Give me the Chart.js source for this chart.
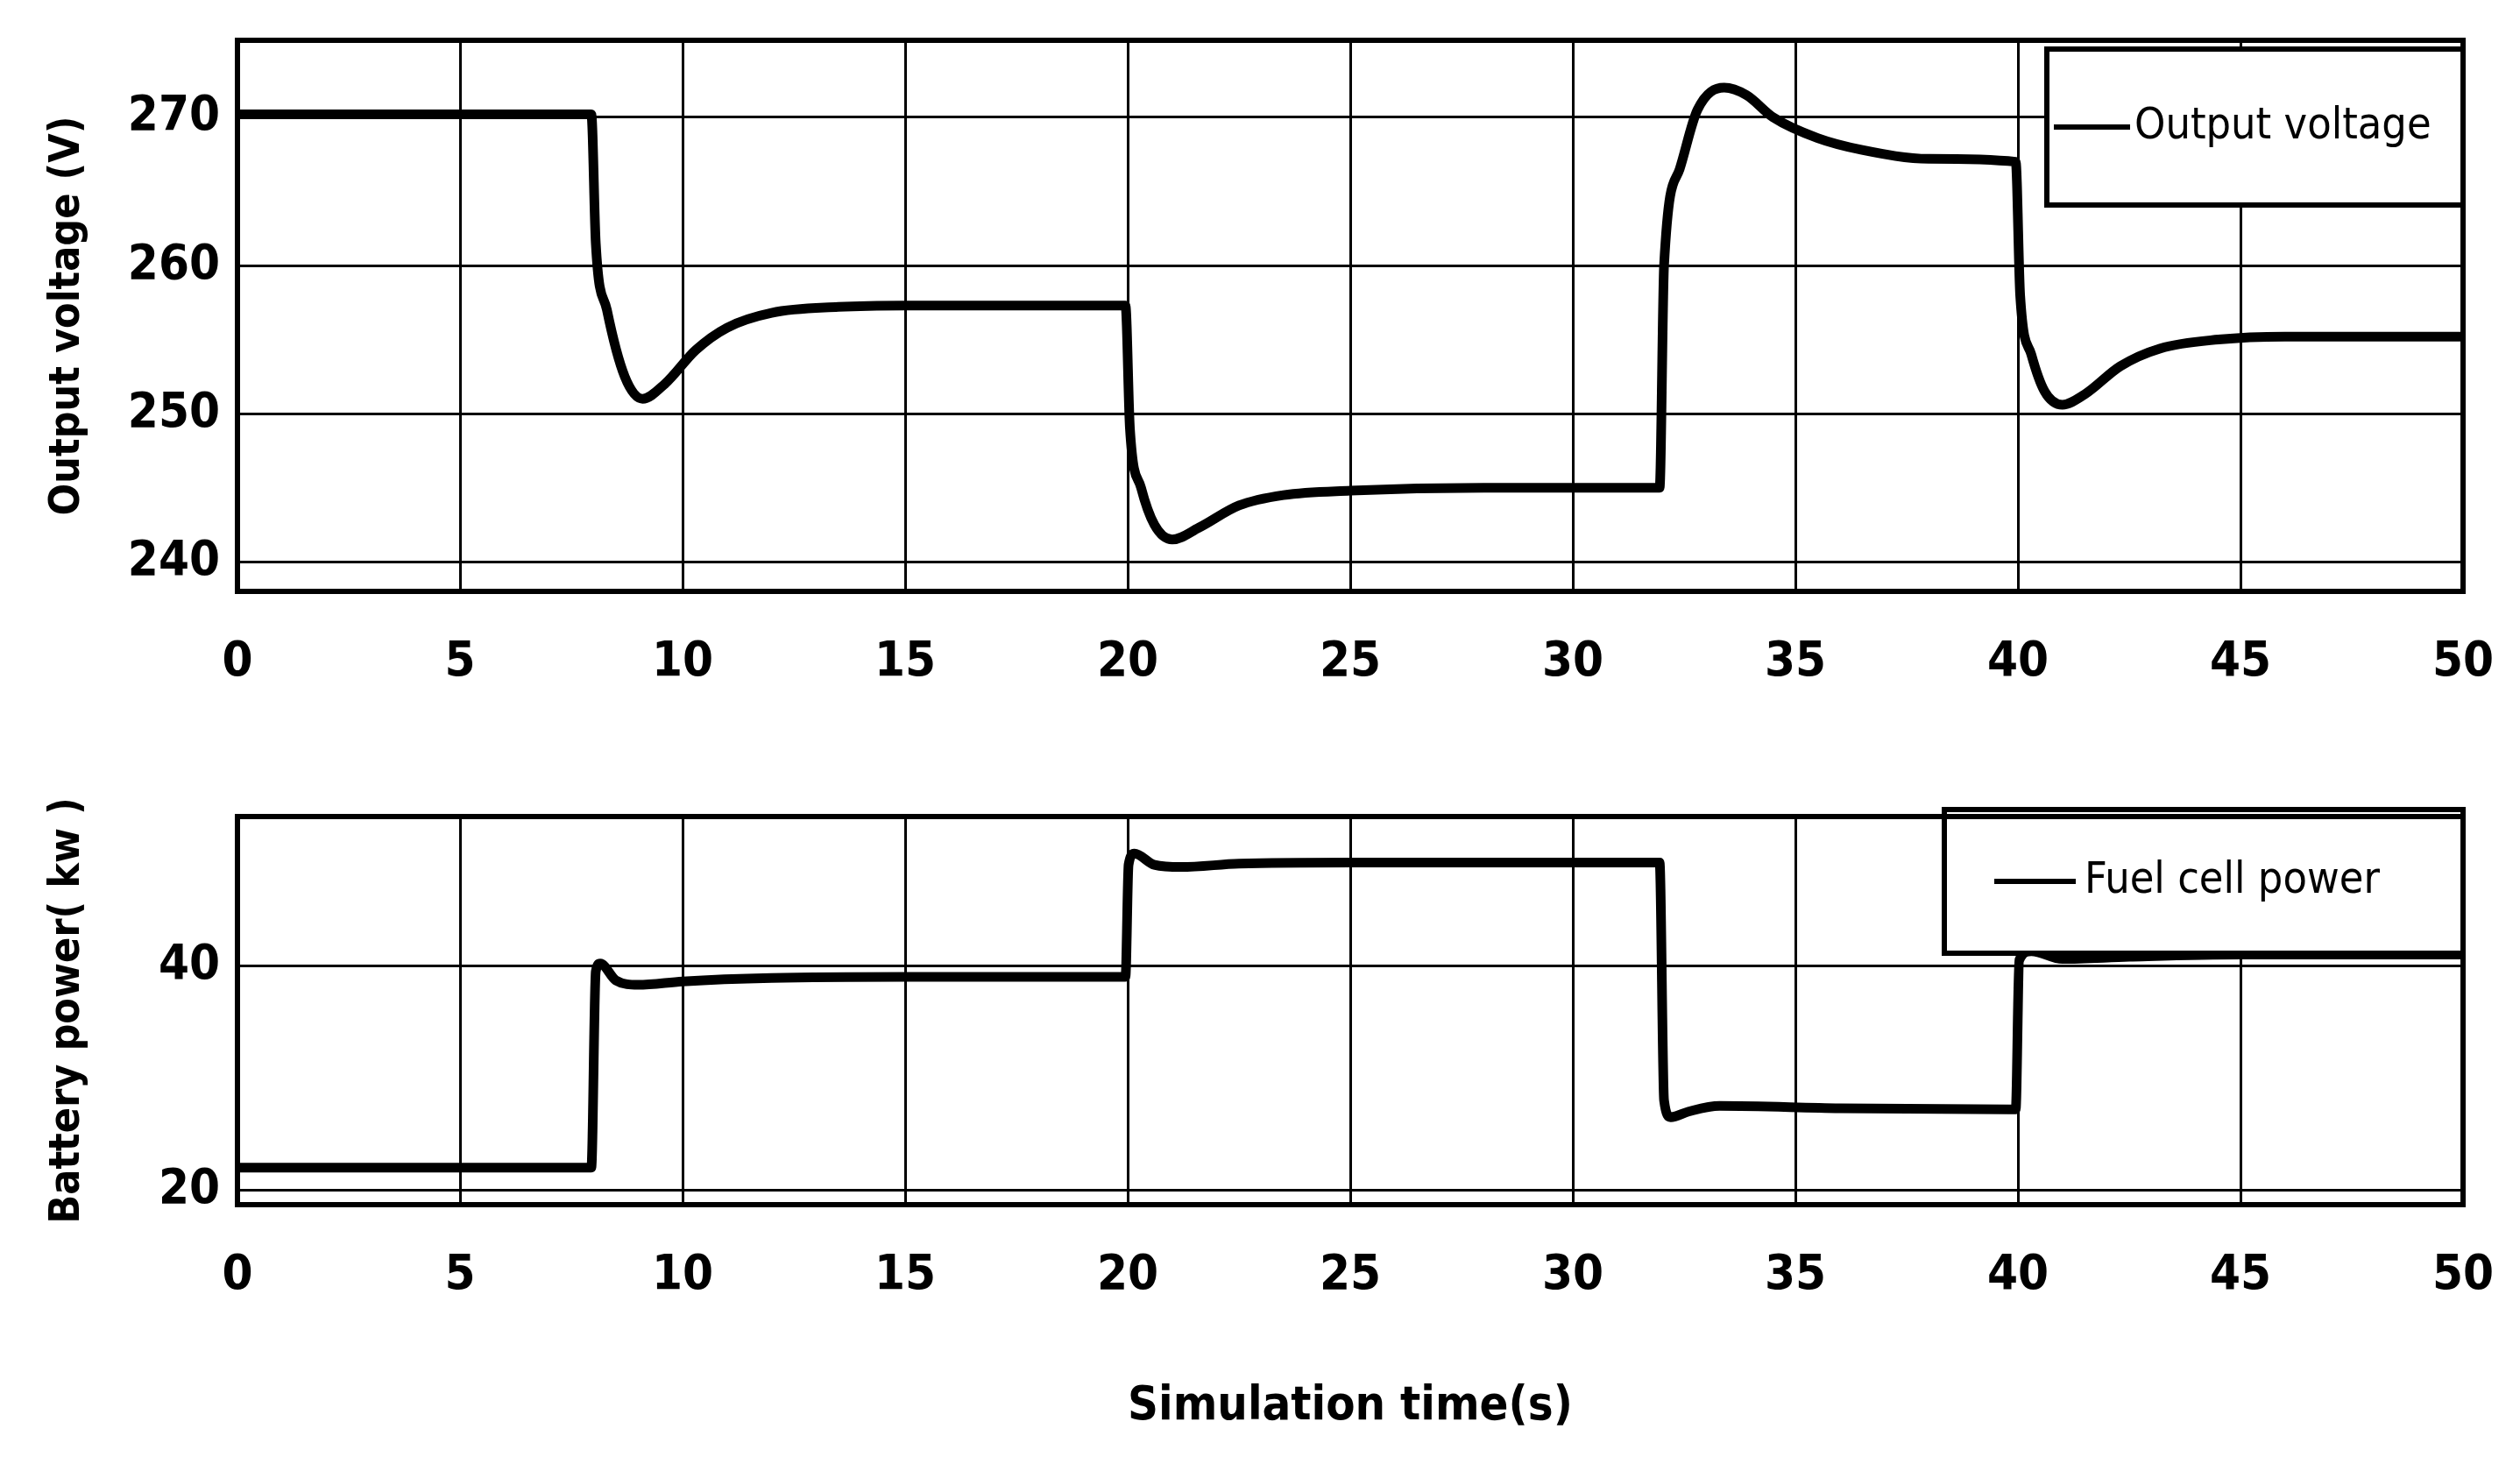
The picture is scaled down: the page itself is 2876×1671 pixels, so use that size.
<!DOCTYPE html>
<html><head><meta charset="utf-8">
<script src="https://cdn.jsdelivr.net/npm/chart.js@4"></script>
<style>
body{margin:0;background:#fff;width:2876px;height:1671px;position:relative;overflow:hidden}
.box{position:absolute;left:0;width:2876px}
</style></head><body>
<div class="box" style="top:0;height:800px"><canvas id="c1"></canvas></div>
<div class="box" style="top:880px;height:762px"><canvas id="c2"></canvas></div>
<script>
// ============ DATA ============
const voltTime = [0, 7.95, 8.05, 8.3, 8.7, 9.1, 9.6, 10.3, 11, 12, 13.5, 15, 19.95, 20.05, 20.3, 20.6, 21, 21.6, 22.5, 23.5, 25, 28, 31.95, 32.05, 32.4, 32.8, 33.4, 33.9, 34.5, 35.5, 36.5, 38, 39.95, 40.05, 40.3, 40.6, 41, 41.5, 42.3, 43.2, 44.5, 46, 50];
const voltage  = [270.2, 270.2, 261.5, 257, 252.5, 251, 252, 254.3, 255.8, 256.8, 257.2, 257.3, 257.3, 249, 245, 242.5, 241.5, 242.3, 243.8, 244.5, 244.8, 245, 245, 260, 266.5, 270.5, 272, 271.5, 270, 268.6, 267.8, 267.2, 267, 258, 254, 251.5, 250.6, 251.3, 253.2, 254.4, 255, 255.2, 255.2];
const powerTime = [0, 7.95, 8.05, 8.15, 8.5, 9, 10, 12, 15, 19.95, 20.02, 20.15, 20.6, 21.2, 22.5, 25, 31.95, 32.05, 32.2, 32.6, 33.3, 36, 39.95, 40.03, 40.3, 41, 42.5, 45, 50];
const power     = [22, 22, 39.5, 40.2, 38.7, 38.3, 38.6, 38.9, 39, 39, 49, 50, 49, 48.8, 49.1, 49.2, 49.2, 28, 26.5, 27, 27.5, 27.3, 27.2, 40.5, 41.3, 40.6, 40.8, 41, 41];
const xTicks = [0, 5, 10, 15, 20, 25, 30, 35, 40, 45, 50];
const voltTicks = [240, 250, 260, 270];
const powerTicks = [20, 40];

const FONT = '"DejaVu Sans Condensed", "DejaVu Sans", sans-serif';
const pts = (xs, ys) => xs.map((x, i) => ({ x, y: ys[i] }));

// legend box drawn inside the plot
function legendBox(label, rx, ry, rw, rh, lineX, textX) {
  return {
    id: 'legendBox_' + label.replace(/\s/g, ''),
    afterDraw(chart) {
      const ctx = chart.ctx, a = chart.chartArea;
      const x = a.right - rx, y = a.top + ry;
      ctx.save();
      ctx.fillStyle = '#fff';
      ctx.fillRect(x, y, rw, rh);
      ctx.lineWidth = 6; ctx.strokeStyle = '#000';
      ctx.strokeRect(x, y, rw, rh);
      ctx.beginPath();
      ctx.moveTo(x + lineX[0], y + rh / 2); ctx.lineTo(x + lineX[1], y + rh / 2); ctx.stroke();
      ctx.fillStyle = '#000';
      ctx.font = '50px ' + FONT;
      ctx.textBaseline = 'middle';
      ctx.fillText(label, x + textX, y + rh / 2);
      ctx.restore();
    }
  };
}

function makeChart(id, data, yMin, yMax, yTicks, yTitle, opts, legend) {
  return new Chart(document.getElementById(id), {
    type: 'line',
    data: { datasets: [{ data, borderColor: '#000', borderWidth: 11, pointRadius: 0, tension: 0.3, cubicInterpolationMode: 'monotone', fill: false }] },
    options: {
      responsive: true, maintainAspectRatio: false, animation: false,
      layout: { padding: { top: opts.top, right: 65, left: 45, bottom: 0 } },
      plugins: { legend: { display: false }, tooltip: { enabled: false } },
      scales: {
        x: {
          type: 'linear', min: 0, max: 50,
          afterBuildTicks: s => { s.ticks = xTicks.map(v => ({ value: v })); },
          afterFit: s => { s.height = opts.xHeight; s.paddingLeft = 0; s.paddingRight = 0; },
          grid: { color: '#000', lineWidth: 3, drawTicks: false },
          border: { color: '#000', width: 6 },
          ticks: { color: '#000', font: { family: FONT, size: 56, weight: 'bold' }, padding: 48, maxRotation: 0 },
          title: { display: !!opts.xTitle, text: opts.xTitle, color: '#000', font: { family: FONT, size: 54, weight: 'bold' }, padding: { top: 8 } }
        },
        y: {
          min: yMin, max: yMax,
          afterBuildTicks: s => { s.ticks = yTicks.map(v => ({ value: v })); },
          afterFit: s => { s.width = 226; s.paddingTop = 0; s.paddingBottom = 0; },
          grid: { color: '#000', lineWidth: 3, drawTicks: false },
          border: { color: '#000', width: 6 },
          ticks: { color: '#000', font: { family: FONT, size: 56, weight: 'bold' }, padding: 20 },
          title: { display: true, text: yTitle, color: '#000', font: { family: FONT, size: 48, weight: 'bold' }, padding: { bottom: 20 } }
        }
      }
    },
    plugins: [legend, {
      id: 'frame',
      afterDraw(chart) {
        const a = chart.chartArea, ctx = chart.ctx;
        ctx.save(); ctx.lineWidth = 6; ctx.strokeStyle = '#000';
        ctx.strokeRect(a.left, a.top, a.right - a.left, a.bottom - a.top);
        ctx.restore();
      }
    }]
  });
}

makeChart('c1', pts(voltTime, voltage), 238, 275.2, voltTicks, 'Output voltage (V)',
  { top: 46, xHeight: 125 },
  legendBox('Output voltage', 475, 10, 475, 178, [8, 95], 100));
makeChart('c2', pts(powerTime, power), 18.7, 53.3, powerTicks, 'Battery power( kw )',
  { top: 52, xHeight: 267, xTitle: 'Simulation time(s)' },
  legendBox('Fuel cell power', 592, -8, 592, 164, [57, 150], 160));
</script>
</body></html>
